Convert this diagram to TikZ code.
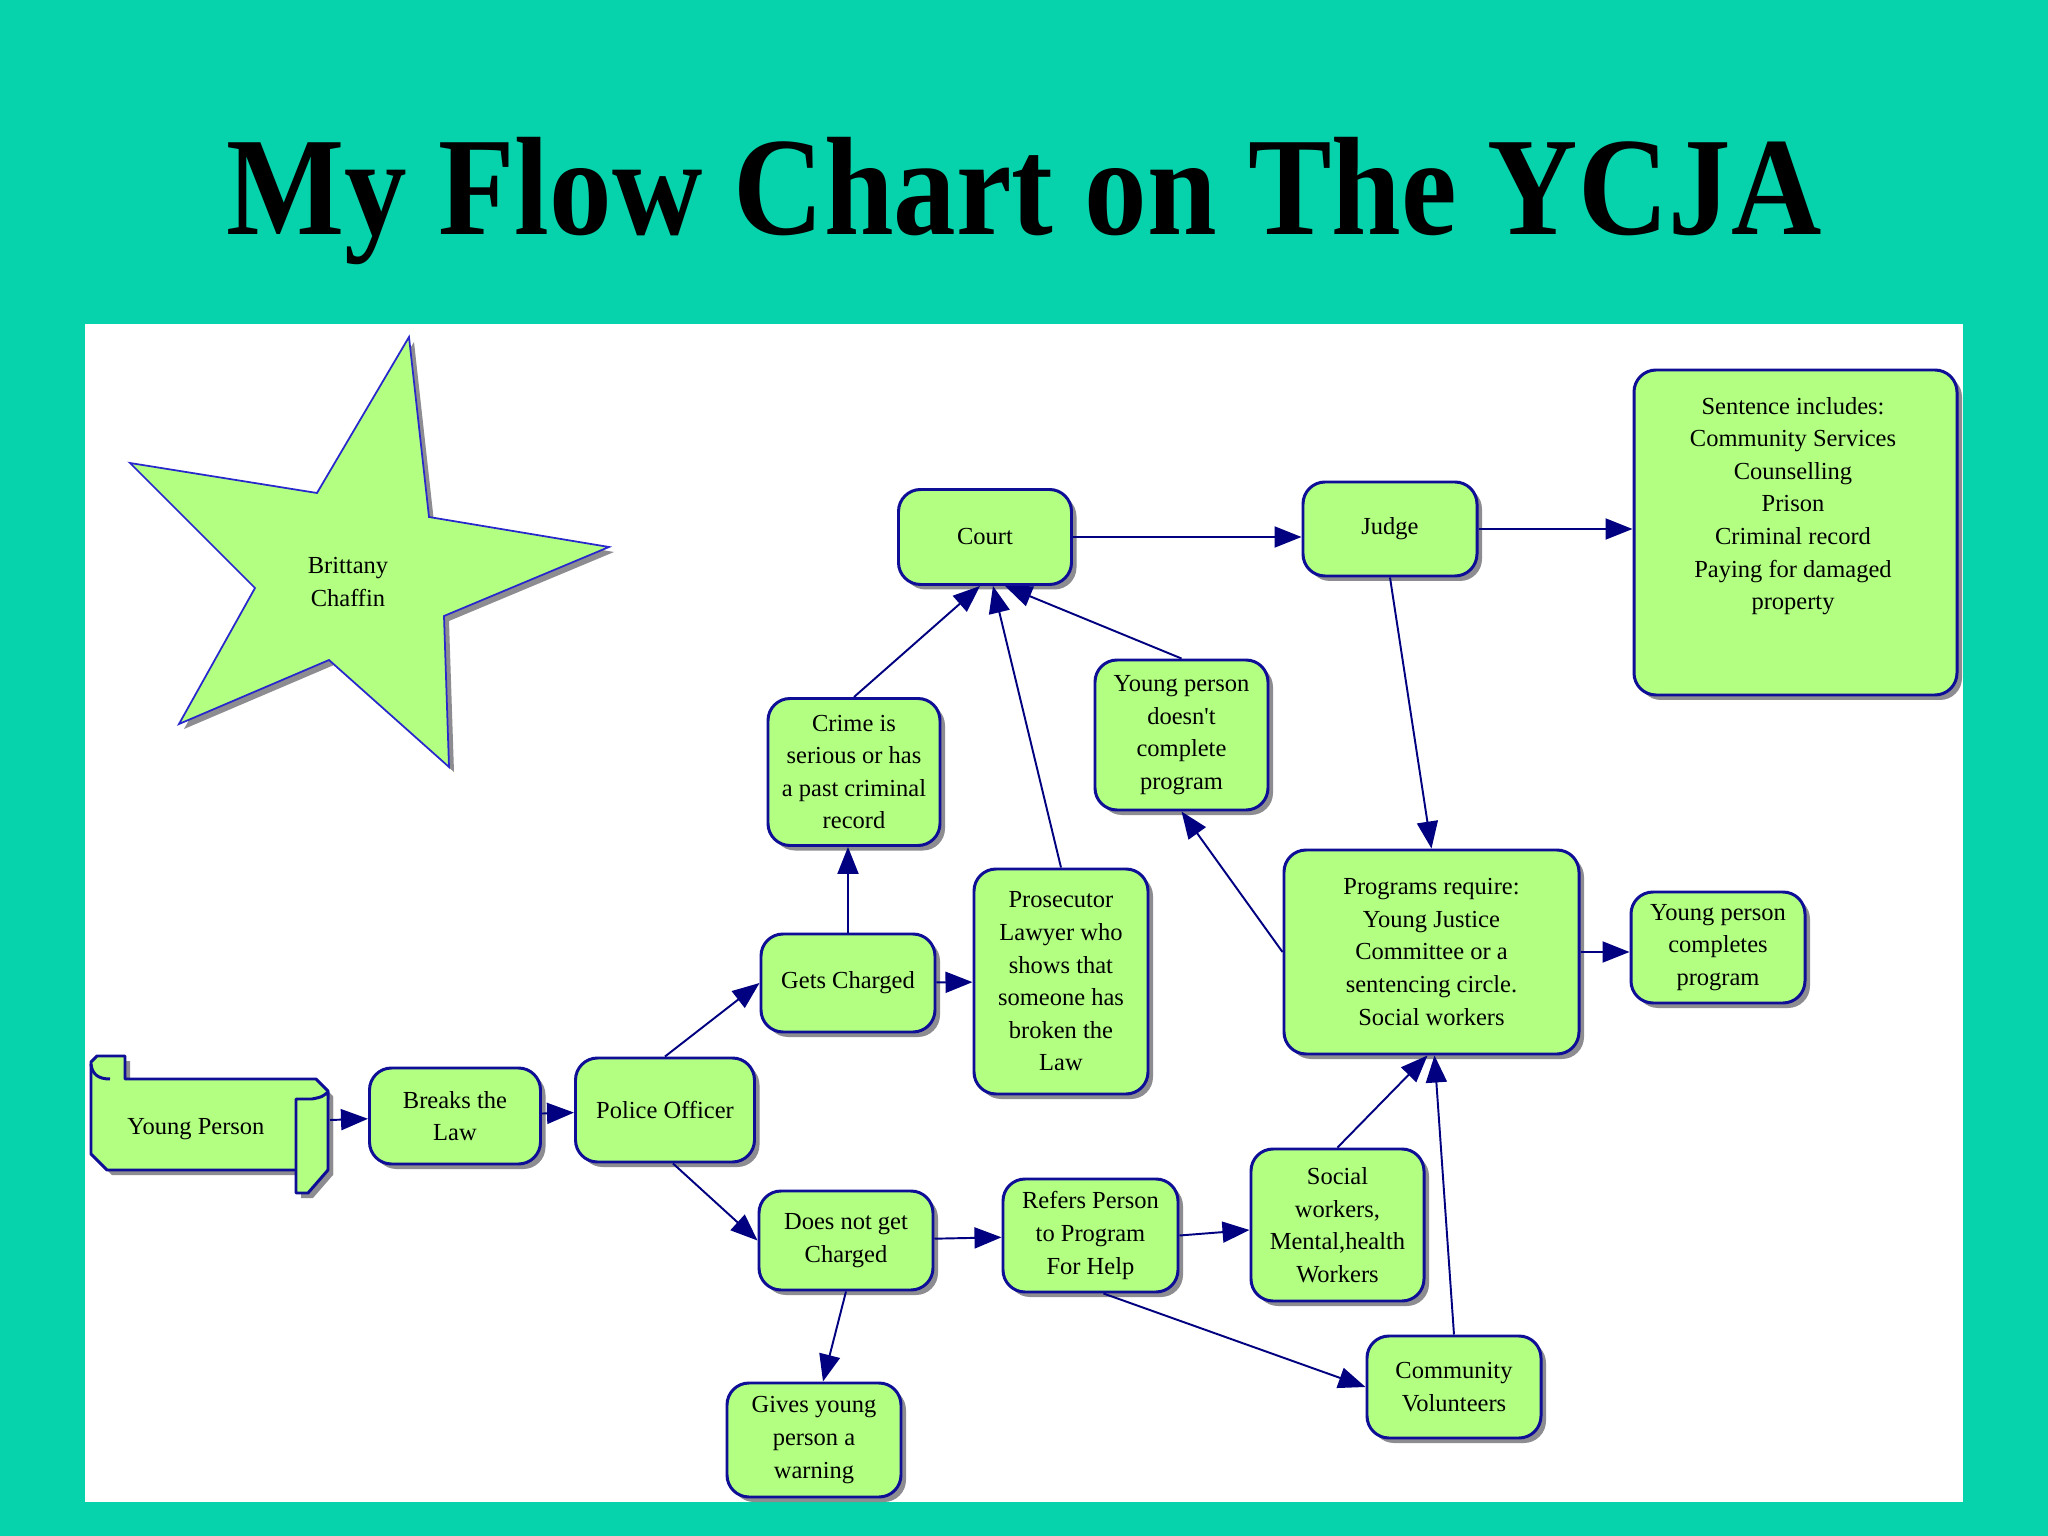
\documentclass[tikz,border=0pt]{standalone}
\usepackage{fontspec}
\setmainfont{Liberation Serif}
\usepackage{tikz}
\usetikzlibrary{arrows.meta,shadows}
\definecolor{bgteal}{RGB}{6,211,171}
\definecolor{boxgreen}{RGB}{178,255,130}
\definecolor{boxline}{RGB}{14,14,150}
\definecolor{arrownavy}{RGB}{0,0,128}
\definecolor{starline}{RGB}{40,40,205}
\definecolor{shadowgray}{RGB}{140,140,145}
\newcommand{\boxfont}{\fontsize{6.97}{9.27}\selectfont}
\newcommand{\titlefont}{\fontsize{35.6}{40}\selectfont\bfseries}
\tikzset{
  shade/.style={drop shadow={shadow xshift=0.05cm, shadow yshift=-0.05cm, fill=shadowgray, opacity=1}},
  box/.style={draw=boxline, line width=0.85pt, fill=boxgreen, rounded corners=0.22cm,
    align=center, font=\boxfont, minimum width=1.74cm, inner sep=1pt, shade},
  flow/.style={-{Triangle[length=0.27cm,width=0.21cm]}, draw=arrownavy, fill=arrownavy, line width=0.55pt},
  scrollpart/.style={draw=boxline, line width=0.85pt, fill=boxgreen, line join=round, shade}
}

\begin{document}
\begin{tikzpicture}[x=1cm, y=-1cm]
      \fill[bgteal] (0, 0) rectangle (20.48, 15.36);
      \fill[white] (0.85, 3.24) rectangle (19.63, 15.02);
      \useasboundingbox (0, 0) rectangle (20.48, 15.36);
      \node (title) at (10.24, 2.35) [anchor=base, font=\titlefont] {\scalebox{1}[1.12]{My Flow Chart on The YCJA}};
      % star
      \filldraw[fill=boxgreen, draw=starline, line width=0.5pt, shade]
        (4.09, 3.37) -- (4.29, 5.17) -- (6.09, 5.47) -- (4.44, 6.16) -- (4.49, 7.67)
        -- (3.29, 6.60) -- (1.79, 7.24) -- (2.55, 5.88) -- (1.30, 4.63) -- (3.17, 4.93) -- cycle;
      \node[align=center, font=\boxfont] (author) at (3.48, 5.82) {Brittany\\Chaffin};
      % scroll
      \path[scrollpart] (0.91, 10.62) -- (0.91, 11.54) -- (1.07, 11.70) -- (3.28, 11.70)
        -- (3.28, 10.91) -- (3.16, 10.79) -- (1.25, 10.79) -- (1.25, 10.56) -- (0.97, 10.56) -- cycle;
      \draw[boxline, line width=0.85pt] (0.91, 10.64) .. controls (0.92, 10.74) and (0.98, 10.79) .. (1.10, 10.79);
      \path[scrollpart] (2.96, 10.99) -- (2.96, 11.93) -- (3.08, 11.93) -- (3.28, 11.70)
        -- (3.28, 10.92) .. controls (3.22, 10.97) .. (3.12, 10.99) -- cycle;
      \node[font=\boxfont] (yp) at (1.96, 11.29) {Young Person};
      \coordinate (ypflap) at (3.30, 11.20);
      % boxes
      \node[box, minimum width=1.71cm, minimum height=0.96cm] (law) at (4.55, 11.16) {Breaks the\\Law};
      \node[box, minimum width=1.79cm, minimum height=1.04cm] (police) at (6.65, 11.10) {Police Officer};
      \node[box, minimum height=0.98cm] (charged) at (8.48, 9.83) {Gets Charged};
      \node[box, minimum width=1.72cm, minimum height=1.47cm] (serious) at (8.54, 7.72) {Crime is\\serious or has\\a past criminal\\record};
      \node[box, minimum width=1.73cm, minimum height=0.95cm] (court) at (9.85, 5.37) {Court};
      \node[box, minimum height=0.94cm] (judge) at (13.90, 5.29) {Judge};
      \node[box, minimum width=3.23cm, minimum height=3.25cm] (sentence) at (17.955, 5.325) {};
      \node[align=center, font=\boxfont] (sentencetext) at (17.93, 5.06) {Sentence includes:\\Community Services\\Counselling\\Prison\\Criminal record\\Paying for damaged\\property};
      \node[box, minimum width=1.73cm, minimum height=1.50cm] (nocomplete) at (11.815, 7.35) {Young person\\doesn\textquotesingle t\\complete\\program};
      \node[box, minimum height=2.25cm] (prosecutor) at (10.61, 9.815) {Prosecutor\\Lawyer who\\shows that\\someone has\\broken the\\Law};
      \node[box, minimum width=2.95cm, minimum height=2.04cm] (programs) at (14.315, 9.52) {Programs require:\\Young Justice\\Committee or a\\sentencing circle.\\Social workers};
      \node[box, minimum height=1.11cm] (completes) at (17.18, 9.475) {Young person\\completes\\program};
      \node[box, minimum height=0.99cm] (notcharged) at (8.46, 12.405) {Does not get\\Charged};
      \node[box, minimum height=1.14cm] (warning) at (8.14, 14.40) {Gives young\\person a\\warning};
      \node[box, minimum width=1.75cm, minimum height=1.13cm] (refers) at (10.905, 12.355) {Refers Person\\to Program\\For Help};
      \node[box, minimum width=1.73cm, minimum height=1.52cm] (social) at (13.375, 12.25) {Social\\workers,\\Mental,health\\Workers};
      \node[box, minimum height=1.02cm] (volunteers) at (14.54, 13.87) {Community\\Volunteers};
      % connectors
      \draw[flow] (ypflap) to (law);
      \draw[flow] (law) to (police);
      \draw[flow] (police.north) to (charged.west);
      \draw[flow] ([xshift=0.08cm]police.south) to (notcharged.west);
      \draw[flow] (charged.north) to (charged.north |- serious.south);
      \draw[flow] (charged) to (prosecutor);
      \draw[flow] (serious.north) to ([xshift=-0.05cm]court.south);
      \draw[flow] (prosecutor.north) to ([xshift=0.08cm]court.south);
      \draw[flow] (nocomplete.north) to ([xshift=0.2cm]court.south);
      \draw[flow] (court.east) to (judge.west |- court.east);
      \draw[flow] (judge.east) to (judge.east -| sentence.west);
      \draw[flow] (judge.south) to (programs.north);
      \draw[flow] (programs.west) to (nocomplete.south);
      \draw[flow] (programs.east) to (programs.east -| completes.west);
      \draw[flow] (notcharged.south) to ([xshift=0.09cm]warning.north);
      \draw[flow] (notcharged) to (refers);
      \draw[flow] (refers.east) to ([yshift=-0.05cm]social.west);
      \draw[flow] ([xshift=0.13cm]refers.south) to (volunteers.west);
      \draw[flow] (social.north) to ([xshift=-0.04cm]programs.south);
      \draw[flow] (volunteers.north) to ([xshift=0.03cm]programs.south);
\end{tikzpicture}
\end{document}
